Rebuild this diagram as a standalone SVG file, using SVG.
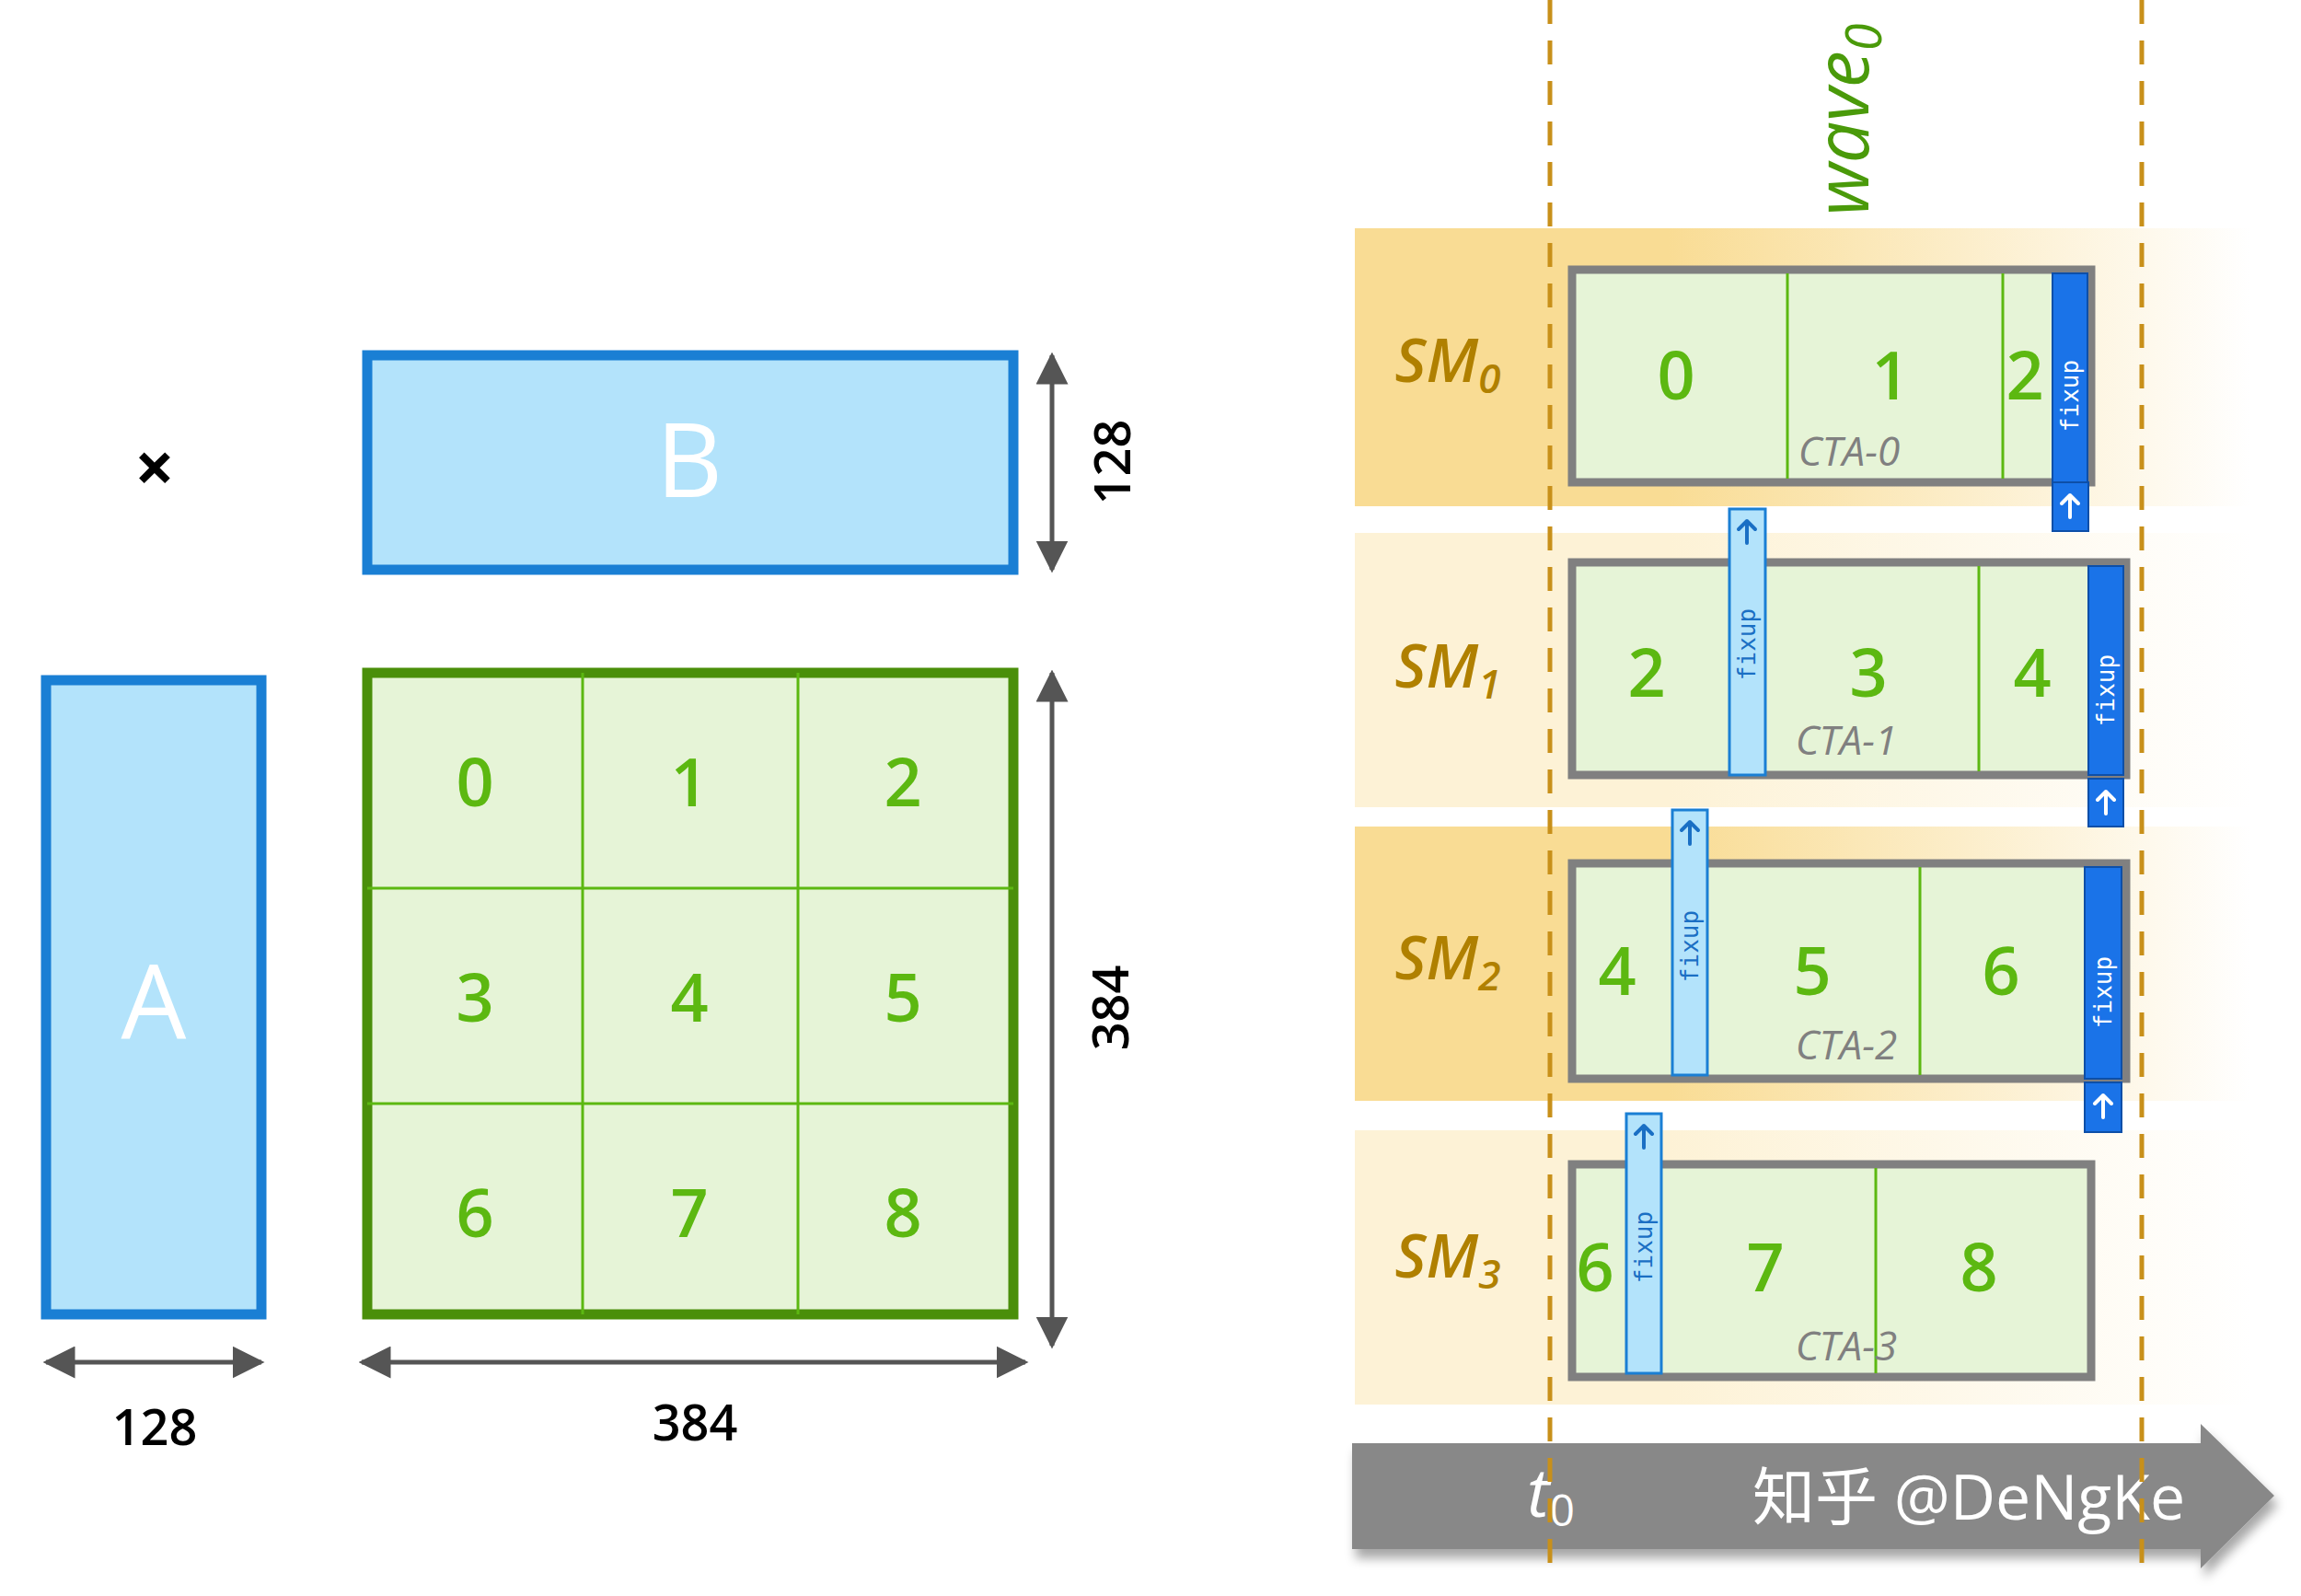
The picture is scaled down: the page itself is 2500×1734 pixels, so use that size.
<svg xmlns="http://www.w3.org/2000/svg" width="2500" height="1734" viewBox="0 0 2500 1734">
<defs>
<linearGradient id="gOr" x1="0" y1="0" x2="1" y2="0"><stop offset="0" stop-color="#f9dc94"/><stop offset="0.35" stop-color="#f9dc94"/><stop offset="1" stop-color="#f9dc94" stop-opacity="0"/></linearGradient>
<linearGradient id="gPa" x1="0" y1="0" x2="1" y2="0"><stop offset="0" stop-color="#fdf2d6"/><stop offset="0.35" stop-color="#fdf2d6"/><stop offset="1" stop-color="#fdf2d6" stop-opacity="0"/></linearGradient>
<marker id="ah" viewBox="0 0 10 10" refX="9" refY="5" markerWidth="7" markerHeight="7" orient="auto-start-reverse"><path d="M0,0 L10,5 L0,10 z" fill="#555"/></marker>
<filter id="sh" x="-5%" y="-20%" width="110%" height="160%"><feDropShadow dx="4" dy="10" stdDeviation="6" flood-color="#000" flood-opacity="0.35"/></filter>
</defs>
<style>
.f{font-family:"Open Sans","DejaVu Sans",sans-serif}
.num{font-family:"Open Sans","DejaVu Sans",sans-serif;font-weight:600;font-size:72px;fill:#5cb811;text-anchor:middle;dominant-baseline:central}
.cta{fill:#e6f4d7;stroke:#808080;stroke-width:9}
.div{stroke:#5cb811;stroke-width:3}
.ctal{font-family:"Open Sans","DejaVu Sans",sans-serif;font-style:italic;font-size:44px;fill:#808080;text-anchor:middle}
.sm{font-family:"Open Sans","DejaVu Sans",sans-serif;font-style:italic;font-weight:600;font-size:66px;fill:#b08000;text-anchor:middle}
.fx{font-family:"DejaVu Sans Mono","Liberation Mono",monospace;font-size:26px;text-anchor:middle;dominant-baseline:central}
.dk{fill:#1a73e8;stroke:#0d4fa8;stroke-width:2}
.lt{fill:#b3e3fb;stroke:#1a7fd4;stroke-width:3}
.dim{stroke:#555;stroke-width:5;marker-start:url(#ah);marker-end:url(#ah)}
.dl{font-family:"Open Sans","DejaVu Sans",sans-serif;font-weight:600;font-size:54px;fill:#000;text-anchor:middle}
.arr{stroke-width:4;fill:none;stroke-linecap:round;stroke-linejoin:round}
</style>

<g id="times"><text class="f" x="168" y="535" font-size="76" font-weight="700" text-anchor="middle">×</text></g>
<g id="B"><rect x="399" y="386" width="702" height="233" fill="#b3e3fb" stroke="#1a7fd4" stroke-width="11"/><text class="f" x="749" y="540" font-size="112" fill="#fff" text-anchor="middle">B</text></g>
<g id="A"><rect x="50" y="739" width="234" height="689" fill="#b3e3fb" stroke="#1a7fd4" stroke-width="11"/><text class="f" x="167" y="1128" font-size="112" fill="#fff" text-anchor="middle">A</text></g>
<g id="C">
<rect x="399" y="731" width="702" height="697" fill="#e6f4d7" stroke="#4a8f0a" stroke-width="11"/>
<line x1="633" y1="731" x2="633" y2="1428" class="div"/><line x1="867" y1="731" x2="867" y2="1428" class="div"/>
<line x1="399" y1="965" x2="1101" y2="965" class="div"/><line x1="399" y1="1199" x2="1101" y2="1199" class="div"/>
<text class="num" x="516" y="848">0</text><text class="num" x="749" y="848">1</text><text class="num" x="981" y="848">2</text>
<text class="num" x="516" y="1082">3</text><text class="num" x="749" y="1082">4</text><text class="num" x="981" y="1082">5</text>
<text class="num" x="516" y="1316">6</text><text class="num" x="749" y="1316">7</text><text class="num" x="981" y="1316">8</text>
</g>
<g id="dims">
<line x1="1143" y1="386" x2="1143" y2="619" class="dim"/>
<text class="dl" transform="translate(1228,502) rotate(-90)">128</text>
<line x1="1143" y1="731" x2="1143" y2="1462" class="dim"/>
<text class="dl" transform="translate(1226,1095) rotate(-90)">384</text>
<line x1="50" y1="1480" x2="284" y2="1480" class="dim"/>
<text class="dl" x="168" y="1570">128</text>
<line x1="393" y1="1480" x2="1114" y2="1480" class="dim"/>
<text class="dl" x="755" y="1565">384</text>
</g>

<g id="bands" transform="translate(-6,0)">
<rect x="1478" y="248" width="974" height="302" fill="url(#gOr)"/>
<rect x="1478" y="579" width="974" height="298" fill="url(#gPa)"/>
<rect x="1478" y="898" width="974" height="298" fill="url(#gOr)"/>
<rect x="1478" y="1228" width="974" height="298" fill="url(#gPa)"/>
<text class="sm" x="1579" y="415">SM<tspan font-size="44" dy="12">0</tspan></text>
<text class="sm" x="1579" y="747">SM<tspan font-size="44" dy="12">1</tspan></text>
<text class="sm" x="1579" y="1064">SM<tspan font-size="44" dy="12">2</tspan></text>
<text class="sm" x="1579" y="1388">SM<tspan font-size="44" dy="12">3</tspan></text>
</g>

<g id="timeline" transform="translate(-6,0)">
<path d="M1475,1568 L2397,1568 L2397,1547 L2477,1625 L2397,1704 L2397,1683 L1475,1683 z" fill="#888" filter="url(#sh)"/>
<text class="f" x="1691" y="1648" font-size="74" font-style="italic" fill="#fff" text-anchor="middle">t<tspan font-size="48" font-style="normal" dy="10">0</tspan></text>
<text x="1910" y="1651" font-family="'Open Sans','Noto Sans CJK SC',sans-serif" font-size="68" fill="#fff">知乎 @DeNgKe</text>
</g>

<g id="waves" transform="translate(-6,0)">
<line x1="1690" y1="0" x2="1690" y2="1700" stroke="#c8901a" stroke-width="5" stroke-dasharray="26,18"/>
<line x1="2333" y1="0" x2="2333" y2="1700" stroke="#c8901a" stroke-width="5" stroke-dasharray="26,18"/>
<text class="f" transform="translate(2036,130) rotate(-90)" font-size="80" font-style="italic" fill="#4a9a0a" text-anchor="middle">wave<tspan font-size="54" dy="14">0</tspan></text>
</g>

<g id="CTA-0" transform="translate(-6,0)">
<rect x="1714" y="293" width="564" height="231" class="cta"/>
<line x1="1948" y1="297" x2="1948" y2="520" class="div"/><line x1="2182" y1="297" x2="2182" y2="520" class="div"/>
<rect x="2236" y="297" width="38" height="227" class="dk"/>
<text class="fx" fill="#fff" transform="translate(2255,430) rotate(-90)">fixup</text>
<text class="num" x="1827" y="406">0</text><text class="num" x="2060" y="406">1</text><text class="num" x="2206" y="406">2</text>
<text class="ctal" x="2015" y="506">CTA-0</text>
<rect x="2236" y="524" width="39" height="53" class="dk"/>
<path d="M2255,562 V538 M2246,547 L2255,538 L2264,547" stroke="#fff" class="arr"/>
</g>

<g id="CTA-1" transform="translate(-6,0)">
<rect x="1714" y="611" width="602" height="231" class="cta"/>
<line x1="2156" y1="615" x2="2156" y2="838" class="div"/>
<rect x="1885" y="553" width="39" height="289" class="lt"/>
<path d="M1904,590 V566 M1895,575 L1904,566 L1913,575" stroke="#1a6fc4" class="arr"/>
<text class="fx" fill="#1a6fc4" transform="translate(1904,700) rotate(-90)">fixup</text>
<rect x="2275" y="615" width="38" height="227" class="dk"/>
<text class="fx" fill="#fff" transform="translate(2294,750) rotate(-90)">fixup</text>
<text class="num" x="1795" y="729">2</text><text class="num" x="2036" y="729">3</text><text class="num" x="2214" y="729">4</text>
<text class="ctal" x="2012" y="820">CTA-1</text>
<rect x="2275" y="846" width="38" height="52" class="dk"/>
<path d="M2294,884 V860 M2285,869 L2294,860 L2303,869" stroke="#fff" class="arr"/>
</g>

<g id="CTA-2" transform="translate(-6,0)">
<rect x="1714" y="938" width="602" height="234" class="cta"/>
<line x1="2092" y1="942" x2="2092" y2="1168" class="div"/>
<rect x="1823" y="880" width="38" height="288" class="lt"/>
<path d="M1842,917 V893 M1833,902 L1842,893 L1851,902" stroke="#1a6fc4" class="arr"/>
<text class="fx" fill="#1a6fc4" transform="translate(1842,1028) rotate(-90)">fixup</text>
<rect x="2271" y="942" width="40" height="230" class="dk"/>
<text class="fx" fill="#fff" transform="translate(2291,1078) rotate(-90)">fixup</text>
<text class="num" x="1763" y="1053">4</text><text class="num" x="1975" y="1053">5</text><text class="num" x="2180" y="1053">6</text>
<text class="ctal" x="2012" y="1151">CTA-2</text>
<rect x="2271" y="1176" width="40" height="54" class="dk"/>
<path d="M2291,1214 V1190 M2282,1199 L2291,1190 L2300,1199" stroke="#fff" class="arr"/>
</g>

<g id="CTA-3" transform="translate(-6,0)">
<rect x="1714" y="1265" width="564" height="231" class="cta"/>
<line x1="2044" y1="1269" x2="2044" y2="1492" class="div"/>
<rect x="1773" y="1210" width="38" height="282" class="lt"/>
<path d="M1792,1247 V1223 M1783,1232 L1792,1223 L1801,1232" stroke="#1a6fc4" class="arr"/>
<text class="fx" fill="#1a6fc4" transform="translate(1792,1355) rotate(-90)">fixup</text>
<text class="num" x="1739" y="1375">6</text><text class="num" x="1924" y="1375">7</text><text class="num" x="2156" y="1375">8</text>
<text class="ctal" x="2012" y="1478">CTA-3</text>
</g>
</svg>
